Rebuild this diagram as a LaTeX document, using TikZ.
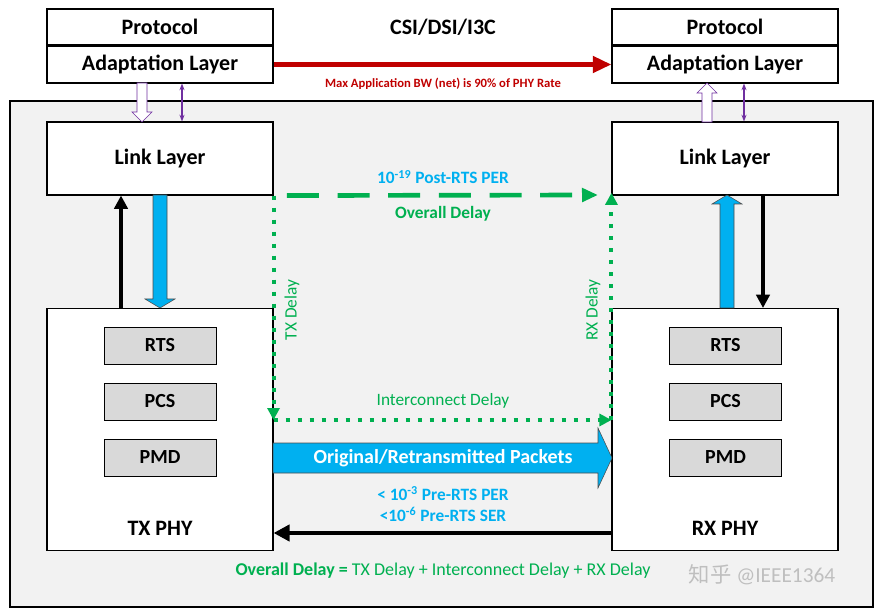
\documentclass[tikz,border=0pt]{standalone}
\usepackage{fontspec}
\setmainfont{Carlito}
\newfontfamily\cjk{Noto Sans CJK SC}
\usepackage{xcolor}
\usetikzlibrary{positioning}
\usetikzlibrary{arrows.meta}
\definecolor{bwblue}{HTML}{00B0F0}
\definecolor{dgreen}{HTML}{00B050}
\definecolor{dred}{HTML}{C00000}
\definecolor{lpurple}{HTML}{7030A0}
\tikzset{
  blk/.style={draw,thick,fill=white,minimum width=169.5pt,font=\fontsize{16.5}{18}\selectfont\bfseries},
  sub/.style={draw,fill=black!15,minimum width=84pt,minimum height=27.75pt,font=\fontsize{15}{17}\selectfont\bfseries},
  dotline/.style={dgreen,line width=3pt,dash pattern=on 3pt off 6pt,-{Triangle[length=9pt,width=9pt]}},
}
\begin{document}
\begin{tikzpicture}[x=0.75pt,y=-0.75pt]
\useasboundingbox (0,0) rectangle (883,613);
\fill[white] (0,0) rectangle (883,613);
\draw[thick,fill=black!5] (10,101) rectangle (873,607);

% upper boxes
\node[blk,minimum height=27pt] (protL) at (160,27) {Protocol};
\node[blk,minimum height=27.75pt] (adaL) at (160,64.5) {Adaptation Layer};
\node[blk,minimum height=27pt] (protR) at (725,27) {Protocol};
\node[blk,minimum height=27.75pt] (adaR) at (725,64.5) {Adaptation Layer};
\node[blk,minimum height=54.75pt] (linkL) at (160,158.5) {Link Layer};
\node[blk,minimum height=54.75pt] (linkR) at (725,158.5) {Link Layer};
\node[blk,minimum height=181.5pt,anchor=north] (phyL) at (160,308) {};
\node[blk,minimum height=181.5pt,anchor=north] (phyR) at (725,308) {};
\node[font=\fontsize{16.5}{18}\selectfont\bfseries] (txL) at (160,528) {TX PHY};
\node[font=\fontsize{16.5}{18}\selectfont\bfseries] (rxL) at (725,528) {RX PHY};

\node[sub] (rtsL) at (160,345.5) {RTS};
\node[sub] (pcsL) at (160,401.5) {PCS};
\node[sub] (pmdL) at (160,457.5) {PMD};
\node[sub] (rtsR) at (725.5,345.5) {RTS};
\node[sub] (pcsR) at (725.5,401.5) {PCS};
\node[sub] (pmdR) at (725.5,457.5) {PMD};

% texts
\node[font=\fontsize{16.5}{18}\selectfont\bfseries] (csi) at (443,27) {CSI/DSI/I3C};
\node[dred,font=\fontsize{9.5}{11}\selectfont\bfseries] (bw) at (443,84) {Max Application BW (net) is 90\% of PHY Rate};
\node[bwblue,font=\fontsize{13}{15}\selectfont\bfseries] (post) at (443,177) {10\textsuperscript{-19} Post-RTS PER};
\node[dgreen,font=\fontsize{13}{15}\selectfont\bfseries] (ovr) at (443,214) {Overall Delay};
\node[dgreen,font=\fontsize{13}{15}\selectfont,rotate=90] (txd) at (292,310) {TX Delay};
\node[dgreen,font=\fontsize{13}{15}\selectfont,rotate=90] (rxd) at (593,310) {RX Delay};
\node[dgreen,font=\fontsize{13}{15}\selectfont] (icd) at (443,401) {Interconnect Delay};
\node[bwblue,font=\fontsize{13}{16}\selectfont\bfseries,align=center] (pre) at (443,504)
  {< 10\textsuperscript{-3} Pre-RTS PER\\<10\textsuperscript{-6} Pre-RTS SER};
\node[dgreen,font=\fontsize{13.5}{15}\selectfont] (sum) at (443,571)
  {\textbf{Overall Delay =} TX Delay + Interconnect Delay + RX Delay};
\node[black!25,font=\fontsize{16}{18}\selectfont] (wm) at (762,575) {{\cjk 知乎} @IEEE1364};

% top red arrow
\draw[dred,line width=4pt,-{Triangle[length=14pt,width=12pt]}] (adaL.east) -- (adaR.west);

% adaptation <-> link
\draw[lpurple,fill=white] (137,83) -- (147,83) -- (147,112) -- (152,112) -- (142,122) -- (132,112) -- (137,112) -- cycle;
\draw[lpurple,fill=white] (702,122) -- (712,122) -- (712,93) -- (717,93) -- (707,83) -- (697,93) -- (702,93) -- cycle;
\draw[lpurple,thick,{Stealth[length=5pt]}-{Stealth[length=5pt]}] (adaL.south -| 182,0) -- (linkL.north -| 182,0);
\draw[lpurple,thick,{Stealth[length=5pt]}-{Stealth[length=5pt]}] (adaR.south -| 744,0) -- (linkR.north -| 744,0);

% link <-> phy
\draw[line width=2.5pt,-{Triangle[length=10pt,width=10pt]}] (phyL.north -| 121,0) -- (linkL.south -| 121,0);
\draw[line width=2.5pt,-{Triangle[length=10pt,width=10pt]}] (linkR.south -| 763,0) -- (phyR.north -| 763,0);
\draw[black!70,fill=bwblue] (153,195) -- (167,195) -- (167,299) -- (175,299) -- (160,308) -- (145,299) -- (153,299) -- cycle;
\draw[black!70,fill=bwblue] (720,308) -- (734,308) -- (734,204) -- (742,204) -- (727,195) -- (712,204) -- (720,204) -- cycle;

% delays
\coordinate (dl) at (linkL.south east);
\coordinate (dr) at (598,195);
\coordinate (il) at (phyL.east |- 0,420);
\coordinate (ir) at (phyR.west |- 0,420);
\draw[dgreen,line width=3.5pt,dash pattern=on 24pt off 14pt,-{Triangle[length=12pt,width=10pt]}] ([xshift=10]dl) -- (dr);
\draw[dotline] (dl) -- (il);
\draw[dotline] (il) -- (ir);
\draw[dotline] (ir) -- ([yshift=2]linkR.south west);

% packets
\draw[black!70,fill=bwblue] (273,443) -- (598,443) -- (598,428) -- (612,458) -- (598,488) -- (598,473) -- (273,473) -- cycle;
\node[white,font=\fontsize{15}{17}\selectfont\bfseries] (pkt) at (443,458) {Original/Retransmitted Packets};
\draw[line width=3pt,-{Triangle[length=12pt,width=12pt]}] (phyR.west |- 0,533) -- (phyL.east |- 0,533);
\end{tikzpicture}
\end{document}
